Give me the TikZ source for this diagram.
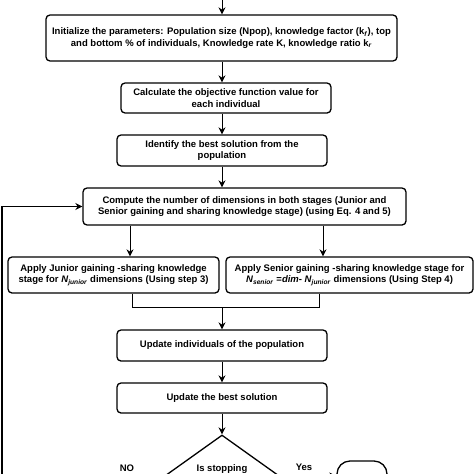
\documentclass[tikz,border=0pt]{standalone}
\usepackage{fontspec}
\setmainfont{Liberation Sans}
\usetikzlibrary{arrows.meta,shapes.geometric}
\begin{document}
\begin{tikzpicture}[x=1pt,y=-1pt,
  every node/.style={font=\fontsize{9.5}{11.5}\selectfont\bfseries},
  box/.style={draw, rounded corners=4pt, line width=1.3pt, align=center, inner sep=0pt},
  arr/.style={-{Stealth[length=7pt,width=7pt]}, line width=1pt},
  ln/.style={line width=1pt}]
\useasboundingbox (0,0) rectangle (474,474);
\clip (0,0) rectangle (474,474);
\node[box, minimum width=351pt, minimum height=46pt] (b1) at (221.5,38)
  {Initialize the parameters: Population size (Npop), knowledge factor (k\textsubscript{\textit{f}}), top\\and bottom \% of individuals, Knowledge rate K, knowledge ratio k\textsubscript{\textit{r}}};
\node[box, minimum width=210pt, minimum height=30pt] (b2) at (226,98)
  {Calculate the objective function value for\\each individual};
\node[box, minimum width=210pt, minimum height=31pt] (b3) at (222,150.5)
  {Identify the best solution from the\\population};
\node[box, minimum width=323pt, minimum height=37pt] (b4) at (244.5,206.5)
  {Compute the number of dimensions in both stages (Junior and\\Senior gaining and sharing knowledge stage) (using Eq. 4 and 5)};
\node[box, minimum width=211pt, minimum height=36pt] (b5a) at (113.5,275)
  {Apply Junior gaining -sharing knowledge\\stage for \textit{N}\textsubscript{\textit{junior}} dimensions (Using step 3)};
\node[box, minimum width=247pt, minimum height=36pt] (b5b) at (349.5,275)
  {Apply Senior gaining -sharing knowledge stage for\\\textit{N}\textsubscript{\textit{senior}} =\textit{dim}- \textit{N}\textsubscript{\textit{junior}} dimensions (Using Step 4)};
\node[box, minimum width=210pt, minimum height=31pt] (b6) at (222,345.5)
  {Update individuals of the population};
\node[box, minimum width=210pt, minimum height=30pt] (b7) at (222,398)
  {Update the best solution};
\node[draw, diamond, line width=1.3pt, inner sep=0pt, minimum width=154pt, minimum height=110pt] (dia) at (222,490) {};
\node[anchor=base] (dtxt) at (222,471.5) {Is stopping};
\node (no) at (127,468) {NO};
\node (yes) at (304,467) {Yes};
\node[draw, line width=1.3pt, rounded corners=13pt, minimum width=50pt, minimum height=30pt] (term) at (362,476) {};
\coordinate (top) at (222,-5);
\coordinate (xa) at (130,0);
\coordinate (xb) at (323,0);
\coordinate (j1) at (132,307);
\coordinate (j2) at (319,307);
\coordinate (m) at (222,307);
\coordinate (fb) at (2,520);
\draw[arr] (top) -- (b1.north -| top);
\draw[arr] (b1.south -| top) -- (b2.north -| top);
\draw[arr] (b2.south -| top) -- (b3.north -| top);
\draw[arr] (b3.south -| top) -- (b4.north -| top);
\draw[arr] (b4.south -| xa) -- (b5a.north -| xa);
\draw[arr] (b4.south -| xb) -- (b5b.north -| xb);
\draw[ln] (b5a.south -| j1) -- (j1) -- (j2) -- (b5b.south -| j2);
\draw[arr] (m) -- (b6.north -| m);
\draw[arr] (b6.south -| m) -- (b7.north -| m);
\draw[arr] (b7.south -| m) -- (dia.north);
\draw[arr] (dia.east |- term.west) -- (term.west);
\draw[arr, line width=1.2pt] (fb) |- (b4.west);
\end{tikzpicture}
\end{document}
